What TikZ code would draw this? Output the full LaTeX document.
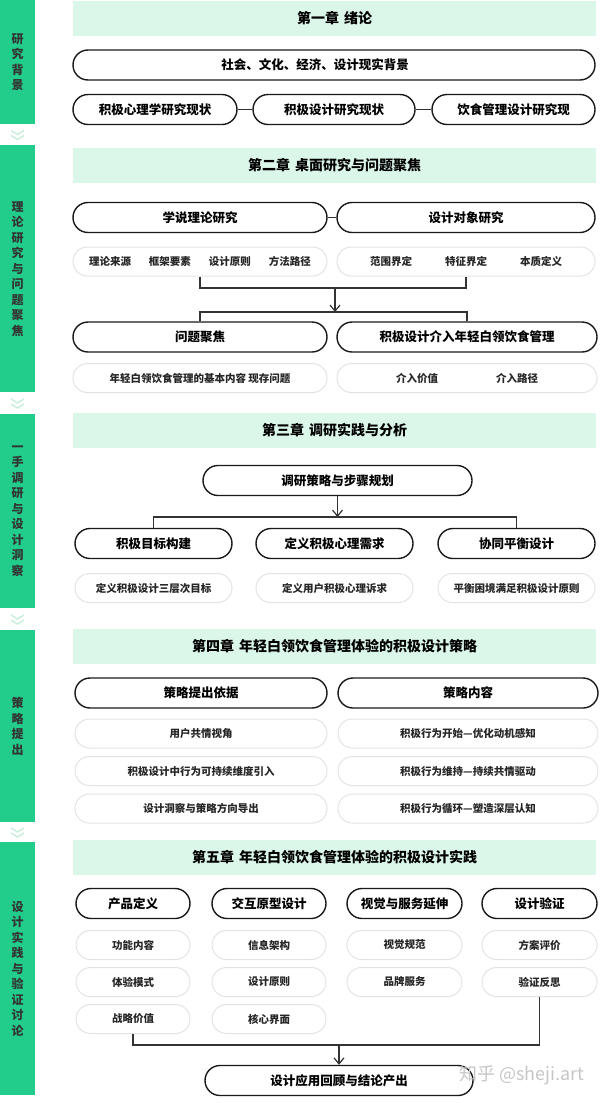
\documentclass[tikz,border=0pt]{standalone}
\usepackage{fontspec}
\setmainfont{Noto Sans CJK SC}
\usetikzlibrary{arrows.meta, positioning, calc}
\definecolor{bargreen}{HTML}{22CC8A}
\definecolor{headgreen}{HTML}{DBF7EA}
\definecolor{subgray}{HTML}{E3E3E3}
\definecolor{chevgreen}{HTML}{C4ECD8}
\definecolor{linegray}{HTML}{333333}

\begin{document}
\begin{tikzpicture}[x=1pt, y=-1pt,
  sidebar/.style={fill=bargreen, draw=none, inner sep=0pt, anchor=north west, minimum width=35pt, align=center, text=black!80, font=\bfseries\fontsize{12}{15.5}\selectfont},
  chapter/.style={fill=headgreen, draw=none, minimum width=523pt, minimum height=35pt, inner sep=0pt, font=\bfseries\fontsize{14}{16}\selectfont},
  pill/.style={draw=black!90, line width=1.4pt, rounded corners=15pt, minimum height=30pt, inner sep=0pt, font=\bfseries\fontsize{12.5}{14}\selectfont},
  subpill/.style={draw=subgray, line width=1pt, rounded corners=14.5pt, minimum height=29pt, inner sep=0pt, text=black!85, font=\bfseries\fontsize{10.5}{12}\selectfont},
  chev/.style={draw=chevgreen, line width=1.3pt},
  link/.style={draw=linegray, line width=1.2pt},
  >={Straight Barb[length=6pt, width=10pt]}]
\useasboundingbox (0,0) rectangle (600,1103);

% sidebar
\node[sidebar, minimum height=124pt] (side1) at (0,0) {研\\究\\背\\景};
\node[sidebar, minimum height=247pt] (side2) at (0,145) {理\\论\\研\\究\\与\\问\\题\\聚\\焦};
\node[sidebar, minimum height=194pt] (side3) at (0,414) {一\\手\\调\\研\\与\\设\\计\\洞\\察};
\node[sidebar, minimum height=192pt] (side4) at (0,630) {策\\略\\提\\出};
\node[sidebar, minimum height=253pt] (side5) at (0,842) {设\\计\\实\\践\\与\\验\\证\\讨\\论};
\foreach \y in {134.5,403,619,832} {
  \draw[chev] (11,\y-4) -- (17.5,\y) -- (24,\y-4);
  \draw[chev] (11,\y+1) -- (17.5,\y+5) -- (24,\y+1);
}

% chapter 1
\node[chapter] (ch1) at (334.5,18) {第一章\hspace{5pt}绪论};
\node[pill, minimum width=522pt] (bg) at (334,65) {社会、文化、经济、设计现实背景\hspace{38pt}\mbox{}};
\node[pill, minimum width=164pt] (b1) at (155,109.5) {积极心理学研究现状};
\node[pill, minimum width=162pt] (b2) at (334,109.5) {积极设计研究现状};
\node[pill, minimum width=163pt] (b3) at (513.5,109.5) {饮食管理设计研究现};
\draw[link] (b1) -- (b2);
\draw[link] (b2) -- (b3);

% chapter 2
\node[chapter] (ch2) at (334.5,165) {第二章\hspace{5pt}桌面研究与问题聚焦};
\node[pill, minimum width=254pt] (t2) at (200,217.5) {学说理论研究};
\node[pill, minimum width=258pt] (o2) at (466,217.5) {设计对象研究};
\draw[link] (t2) -- (o2);
\node[subpill, minimum width=254pt] (t2s) at (200,261.5) {理论来源\hspace{18pt}框架要素\hspace{18pt}设计原则\hspace{18pt}方法路径};
\node[subpill, minimum width=258pt] (o2s) at (466,261.5) {范围界定\hspace{33pt}特征界定\hspace{33pt}本质定义};
\coordinate (m2) at (335,288);
\coordinate (m2b) at (335,312);
\draw[link] (t2s.south) |- (m2) -| (o2s.south);
\draw[link, ->] (m2) -- (m2b);
\node[pill, minimum width=254pt] (q2) at (200,337) {问题聚焦};
\node[pill, minimum width=260pt] (p2) at (467,337) {积极设计介入年轻白领饮食管理};
\draw[link] (q2.north) |- (m2b) -| (p2.north);
\node[subpill, minimum width=254pt] (q2s) at (200,378) {年轻白领饮食管理的基本内容 现存问题};
\node[subpill, minimum width=260pt] (p2s) at (467,378) {介入价值\hspace{58pt}介入路径};

% chapter 3
\node[chapter] (ch3) at (334.5,430.5) {第三章\hspace{5pt}调研实践与分析};
\node[pill, minimum width=269pt] (plan) at (337.5,480.5) {调研策略与步骤规划};
\node[pill, minimum width=157pt] (g1) at (153.5,543.5) {积极目标构建};
\node[pill, minimum width=157pt] (g2) at (334.5,543.5) {定义积极心理需求};
\node[pill, minimum width=157pt] (g3) at (516.5,543.5) {协同平衡设计};
\coordinate (m3) at (337.5,517);
\draw[link, ->] (plan) -- (m3);
\draw[link] (g1.north) |- (m3) -| (g3.north);
\node[subpill, minimum width=157pt] (g1s) at (153.5,588) {定义积极设计三层次目标};
\node[subpill, minimum width=157pt] (g2s) at (334.5,588) {定义用户积极心理诉求};
\node[subpill, minimum width=157pt] (g3s) at (516.5,588) {平衡困境满足积极设计原则};

% chapter 4
\node[chapter] (ch4) at (334.5,646) {第四章\hspace{5pt}年轻白领饮食管理体验的积极设计策略};
\node[pill, minimum width=252pt] (s4) at (201,693) {策略提出依据};
\node[pill, minimum width=260pt] (c4) at (468,693) {策略内容};
\node[subpill, minimum width=252pt] (s4a) at (201,733.5) {用户共情视角};
\node[subpill, minimum width=252pt, below=7.5pt of s4a] (s4b) {积极设计中行为可持续维度引入};
\node[subpill, minimum width=252pt, below=7.5pt of s4b] (s4c) {设计洞察与策略方向导出};
\node[subpill, minimum width=260pt] (c4a) at (468,733.5) {积极行为开始—优化动机感知};
\node[subpill, minimum width=260pt, below=7.5pt of c4a] (c4b) {积极行为维持—持续共情驱动};
\node[subpill, minimum width=260pt, below=7.5pt of c4b] (c4c) {积极行为循环—塑造深层认知};

% chapter 5
\node[chapter] (ch5) at (334.5,857.5) {第五章\hspace{5pt}年轻白领饮食管理体验的积极设计实践};
\node[pill, minimum width=114pt] (p1) at (133,903.5) {产品定义};
\node[pill, minimum width=114pt] (p2x) at (269,903.5) {交互原型设计};
\node[pill, minimum width=115pt] (p3) at (404.5,903.5) {视觉与服务延伸};
\node[pill, minimum width=115pt] (p4) at (539.5,903.5) {设计验证};
\node[subpill, minimum width=114pt] (p1a) at (133,945) {功能内容};
\node[subpill, minimum width=114pt, below=7pt of p1a] (p1b) {体验模式};
\node[subpill, minimum width=114pt, below=7pt of p1b] (p1c) {战略价值};
\node[subpill, minimum width=114pt] (p2a) at (269,945) {信息架构};
\node[subpill, minimum width=114pt, below=7pt of p2a] (p2b) {设计原则};
\node[subpill, minimum width=114pt, below=7pt of p2b] (p2c) {核心界面};
\node[subpill, minimum width=115pt] (p3a) at (404.5,945) {视觉规范};
\node[subpill, minimum width=115pt, below=7pt of p3a] (p3b) {品牌服务};
\node[subpill, minimum width=115pt] (p4a) at (539.5,945) {方案评价};
\node[subpill, minimum width=115pt, below=7pt of p4a] (p4b) {验证反思};
\node[pill, minimum width=268pt] (fin) at (339,1080.5) {设计应用回顾与结论产出};
\coordinate (m5) at (339,1045);
\draw[link] (p1c.south) |- (m5) -| (p4b.south);
\draw[link, ->] (m5) -- (fin.north);

\node[text=gray!45, font=\fontsize{18}{20}\selectfont] (wm) at (522,1075) {知乎 @sheji.art};
\end{tikzpicture}
\end{document}
